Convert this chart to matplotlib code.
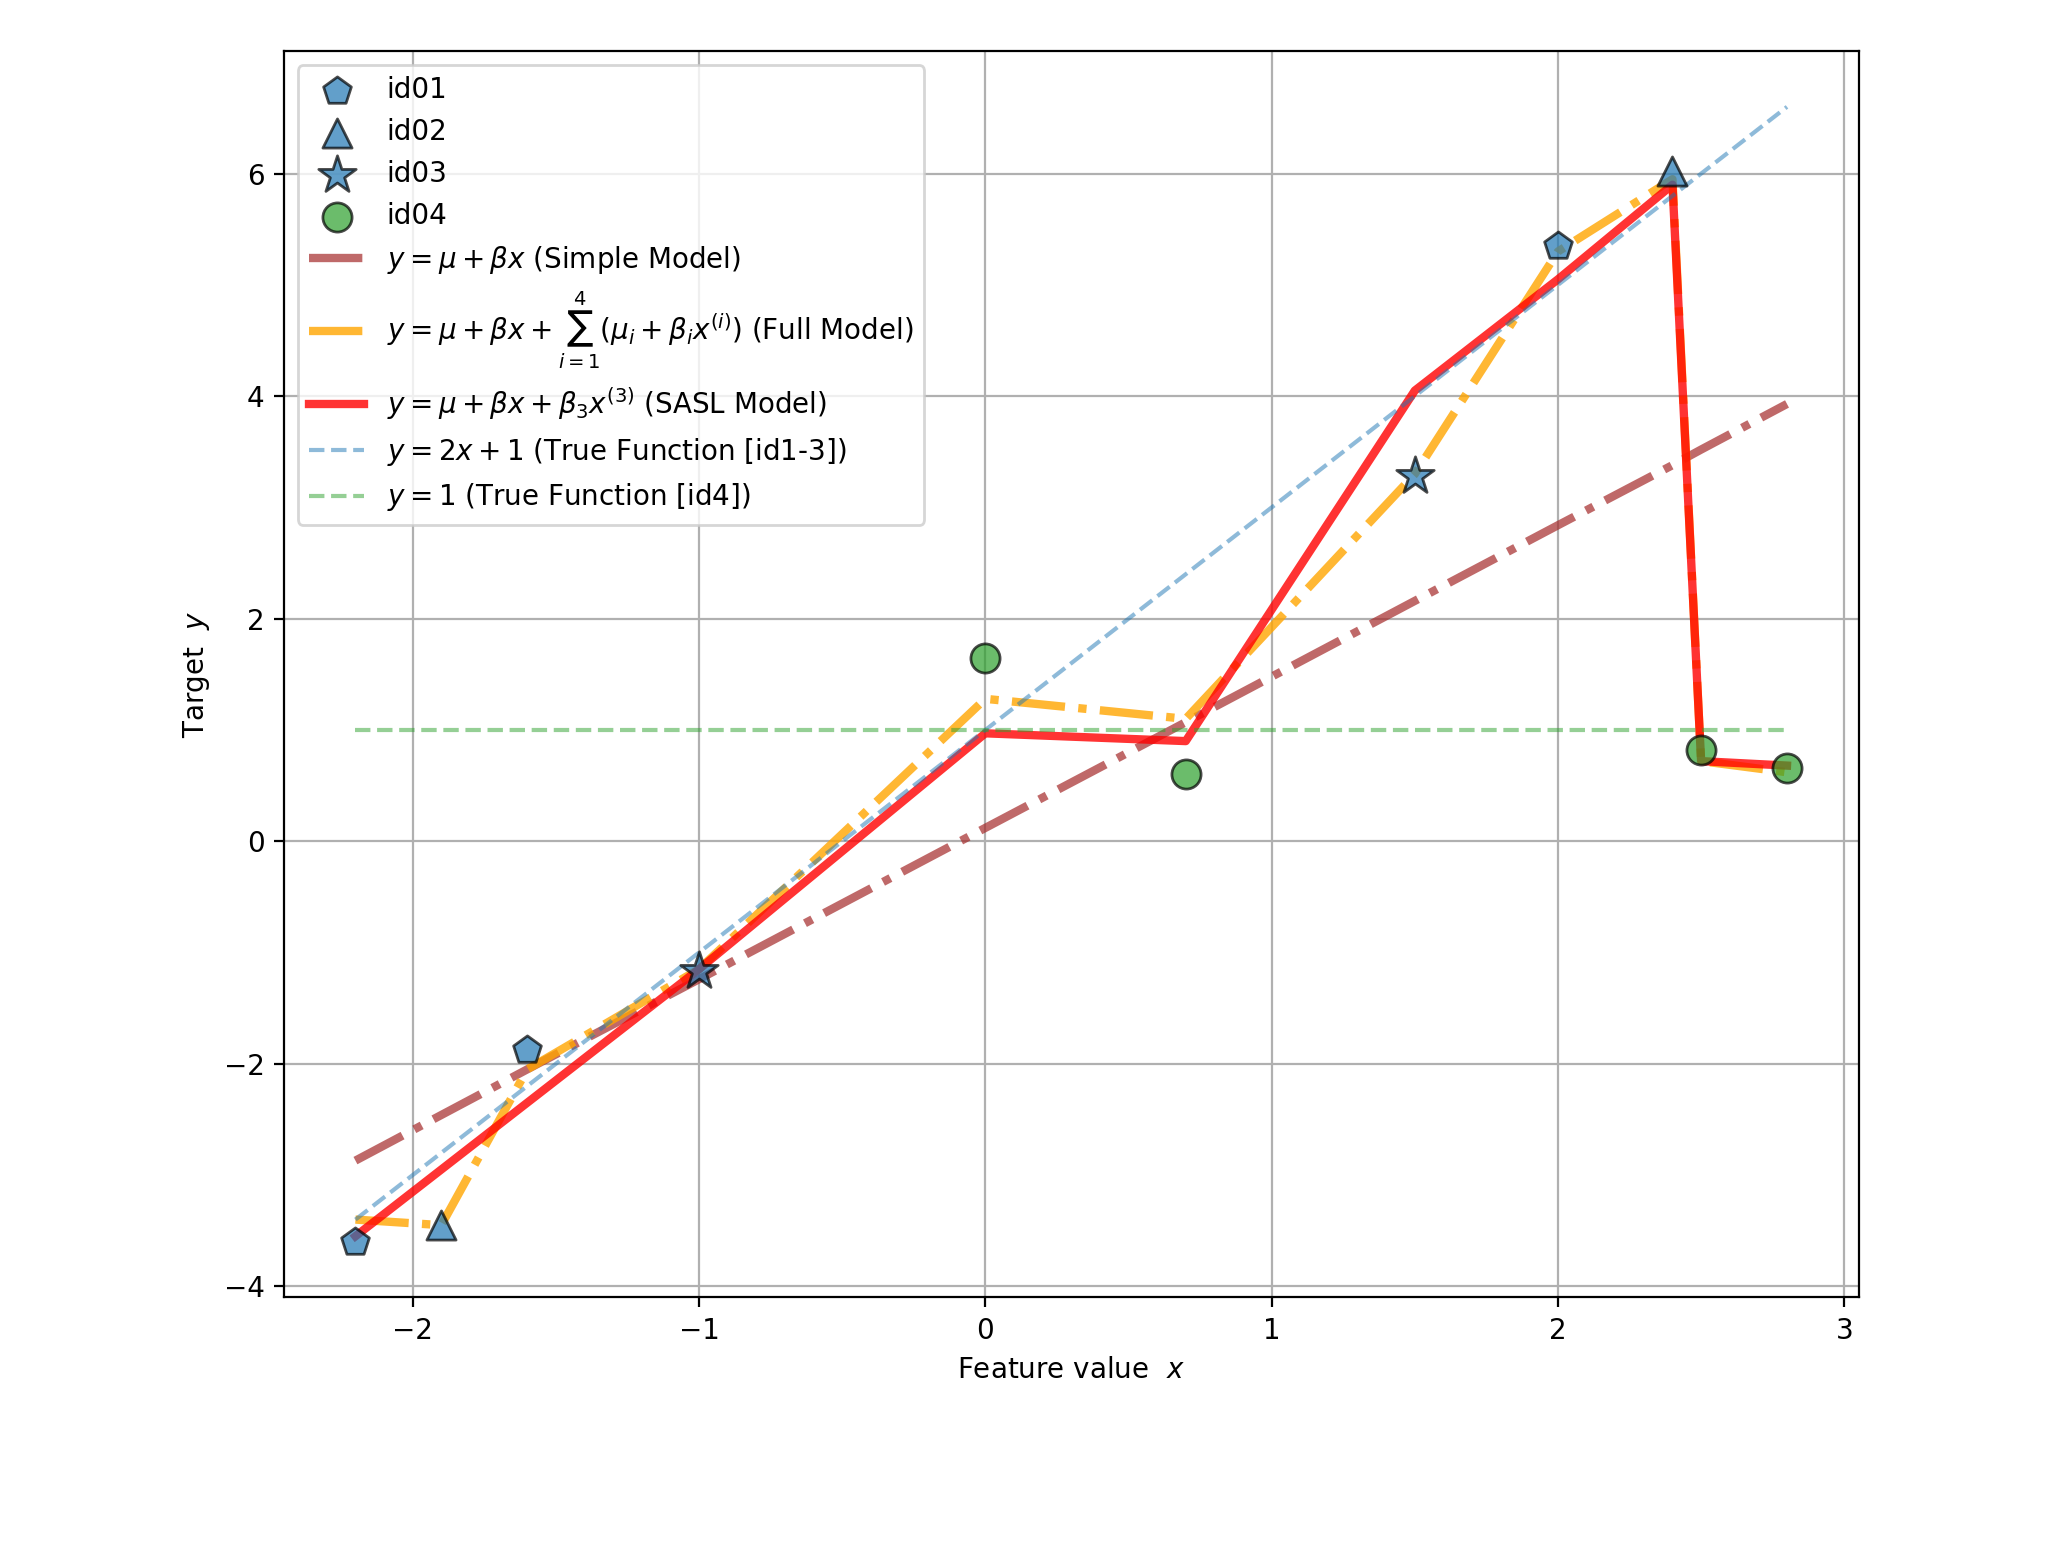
import matplotlib
matplotlib.use("Agg")
import matplotlib.pyplot as plt
import numpy as np

id01_x = [-2.2, -1.6, 2.0]; id01_y = [-3.6, -1.88, 5.35]
id02_x = [-1.9, 2.4]; id02_y = [-3.45, 6.02]
id03_x = [-1.0, 1.5]; id03_y = [-1.17, 3.28]
id04_x = [0.0, 0.7, 2.5, 2.8]; id04_y = [1.65, 0.6, 0.82, 0.66]

line_x = [-2.2, -1.9, -1.6, -1.0, 0.0, 0.7, 1.5, 2.0, 2.4, 2.5, 2.8]
simple_y = [-2.87, -2.46, -2.05, -1.24, 0.12, 1.07, 2.16, 2.84, 3.38, 3.52, 3.93]
full_y = [-3.4, -3.45, -2.05, -1.15, 1.28, 1.1, 3.3, 5.3, 5.95, 0.72, 0.62]
sasl_y = [-3.55, -2.95, -2.35, -1.15, 0.97, 0.9, 4.05, 5.05, 5.9, 0.72, 0.68]
true_x = [-2.2, 2.8]

fig = plt.figure(figsize=(10.36, 7.76), dpi=200)
ax = fig.add_axes([0.137, 0.164, 0.760, 0.803])
mk = dict(s=110, edgecolors='black', alpha=0.7, zorder=5)
ax.scatter(id01_x, id01_y, marker='p', color='#1f77b4', label='id01', **mk)
ax.scatter(id02_x, id02_y, marker='^', color='#1f77b4', label='id02', **mk)
ax.scatter(id03_x, id03_y, marker='*', color='#1f77b4', s=200, edgecolors='black', alpha=0.7, zorder=5, label='id03')
ax.scatter(id04_x, id04_y, marker='o', color='#2ca02c', label='id04', **mk)
ax.plot(line_x, simple_y, '-.', color='brown', alpha=0.7, lw=3, label=r'$y=\mu+\beta x$ (Simple Model)')
ax.plot(line_x, full_y, '-.', color='orange', alpha=0.8, lw=3,
        label=r'$y=\mu+\beta x+\sum_{i=1}^{4}(\mu_i+\beta_i x^{(i)})$ (Full Model)')
ax.plot(line_x, sasl_y, '-', color='red', alpha=0.8, lw=3, label=r'$y=\mu+\beta x+\beta_3 x^{(3)}$ (SASL Model)')
ax.plot(true_x, [2*v+1 for v in true_x], '--', color='#1f77b4', alpha=0.5, lw=1.5, label=r'$y=2x+1$ (True Function [id1-3])')
ax.plot(true_x, [1, 1], '--', color='#2ca02c', alpha=0.5, lw=1.5, label=r'$y=1$ (True Function [id4])')
ax.set_xlim(-2.45, 3.05)
ax.set_ylim(-4.1, 7.1)
ax.grid(True)
ax.set_xlabel(r'Feature value  $x$')
ax.set_ylabel(r'Target  $y$')
ax.legend(loc='upper left')
fig.savefig('out.png', dpi=200)
